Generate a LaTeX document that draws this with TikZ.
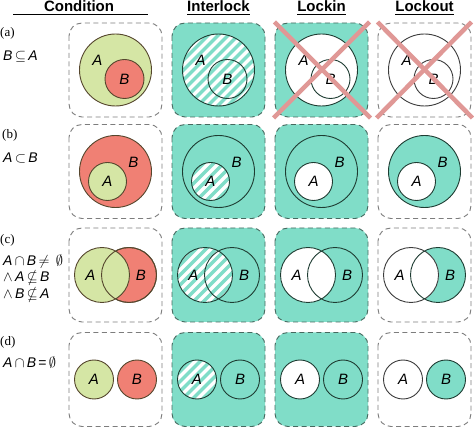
\documentclass[tikz,border=0pt]{standalone}
\usepackage{fontspec}
\usepackage{amssymb}
\setmainfont{Liberation Sans}
\newfontfamily\serifA{Liberation Serif}
\definecolor{tealc}{RGB}{128,221,200}
\definecolor{boxteal}{RGB}{70,105,95}
\definecolor{boxgray}{RGB}{125,125,125}
\definecolor{cgreen}{RGB}{213,230,165}
\definecolor{cred}{RGB}{240,128,116}
\definecolor{condline}{RGB}{85,70,45}
\definecolor{tline}{RGB}{30,60,50}
\definecolor{gline}{RGB}{60,60,60}
\definecolor{xpink}{RGB}{224,152,150}
\newcommand\Hatch[2]{%
  \begin{scope}[shift={#1}]
    \clip (0,0) circle (#2);
    \fill[tealc] (0,0) circle (#2);
    \foreach \k in {-80,-70,...,80} {\draw[white, line width=3.5pt] (\k-60,60) -- (\k+60,-60);}
  \end{scope}}
\begin{document}
\begin{tikzpicture}[x=1pt,y=-1pt,
  cellbox/.style={dashed, dash pattern=on 5pt off 3.5pt, rounded corners=13pt, line width=0.9pt},
  wcell/.style={cellbox, draw=boxgray, fill=white},
  tcell/.style={cellbox, draw=boxteal, fill=tealc},
  cc/.style={draw=condline, line width=0.9pt},
  tc/.style={draw=tline, line width=0.9pt},
  gc/.style={draw=gline, line width=0.9pt},
  lab/.style={inner sep=0pt, font=\fontsize{15}{17}\selectfont\itshape},
  cond/.style={anchor=west, inner sep=0pt, font=\fontsize{14}{16}\selectfont},
  tag/.style={anchor=west, inner sep=0pt, font=\fontsize{13}{15}\selectfont\serifA},
  head/.style={anchor=base, inner sep=0pt, font=\fontsize{15}{17}\selectfont\bfseries},
  uline/.style={line width=1.4pt, draw=black},
  xline/.style={line width=4.5pt, draw=xpink}
]
\useasboundingbox (0,0) rectangle (474,427);

% headers
\node[head] (hC) at (79,12) {Condition};
\coordinate (hCl) at (13,14.5); \coordinate (hCr) at (148,14.5);
\draw[uline] (hCl) -- (hCr);
\node[head] (hI) at (218.5,12) {Interlock};
\node[head] (hL) at (321.5,12) {Lockin};
\node[head] (hO) at (424.5,12) {Lockout};
\foreach \n in {hI,hL,hO} {\draw[uline] ([yshift=-2.5pt]\n.base west) -- ([yshift=-2.5pt]\n.base east);}

% condition labels
\node[tag] (ta) at (0,33) {(a)};
\node[cond] (ca) at (3,57) {\textit{B}\,$\subseteq$\,\textit{A}};
\node[tag] (tb) at (2,135) {(b)};
\node[cond] (cb) at (3,158) {\textit{A}\,$\subset$\,\textit{B}};
\node[tag] (tc) at (0,240) {(c)};
\node[cond] (cc1) at (3,262) {\textit{A}\,$\cap$\,\textit{B}$\,\neq\,\emptyset$};
\node[cond] (cc2) at (3,278.5) {$\wedge$\,\textit{A}\,$\nsubseteq$\,\textit{B}};
\node[cond] (cc3) at (3,295) {$\wedge$\,\textit{B}\,$\nsubseteq$\,\textit{A}};
\node[tag] (td) at (0,342) {(d)};
\node[cond] (cd) at (3,363) {\textit{A}\,$\cap$\,\textit{B}\,=\,$\emptyset$};

% ===== Row (a) =====
\begin{scope}[shift={(115.5,70)}]
  \draw[wcell] (-46.5,-47) rectangle (46.5,47);
  \filldraw[cc, fill=cgreen] (0,0) circle (36pt);
  \filldraw[cc, fill=cred] (9,9) circle (19.5pt);
  \node[lab] (a1A) at (-18,-10) {A};
  \node[lab] (a1B) at (9,9) {B};
\end{scope}
\begin{scope}[shift={(218.5,70)}]
  \draw[tcell] (-46.5,-47) rectangle (46.5,47);
  \Hatch{(0,0)}{36pt}
  \draw[tc] (0,0) circle (36pt);
  \draw[tc] (9,9) circle (19.5pt);
  \node[lab] (a2A) at (-18,-10) {A};
  \node[lab] (a2B) at (9,9) {B};
\end{scope}
\begin{scope}[shift={(321.5,70)}]
  \draw[tcell] (-46.5,-47) rectangle (46.5,47);
  \filldraw[tc, fill=white] (0,0) circle (36pt);
  \draw[tc] (9,9) circle (19.5pt);
  \node[lab] (a3A) at (-18,-10) {A};
  \node[lab] (a3B) at (9,9) {B};
  \coordinate (a3p) at (-47,-48); \coordinate (a3q) at (49,48);
  \coordinate (a3r) at (48,-48); \coordinate (a3s) at (-48,48);
  \draw[xline] (a3p) -- (a3q);
  \draw[xline] (a3r) -- (a3s);
\end{scope}
\begin{scope}[shift={(424.5,70)}]
  \draw[wcell] (-46.5,-47) rectangle (46.5,47);
  \draw[gc] (0,0) circle (36pt);
  \draw[gc] (9,9) circle (19.5pt);
  \node[lab] (a4A) at (-18,-10) {A};
  \node[lab] (a4B) at (9,9) {B};
  \coordinate (a4p) at (-47,-48); \coordinate (a4q) at (48,48);
  \coordinate (a4r) at (47,-48); \coordinate (a4s) at (-48,48);
  \draw[xline] (a4p) -- (a4q);
  \draw[xline] (a4r) -- (a4s);
\end{scope}

% ===== Row (b) =====
\begin{scope}[shift={(115.5,171.5)}]
  \draw[wcell] (-46.5,-47) rectangle (46.5,47);
  \filldraw[cc, fill=cred] (0,0) circle (36pt);
  \filldraw[cc, fill=cgreen] (-8,10) circle (19pt);
  \node[lab] (b1B) at (18,-9) {B};
  \node[lab] (b1A) at (-8,10) {A};
\end{scope}
\begin{scope}[shift={(218.5,171.5)}]
  \draw[tcell] (-46.5,-47) rectangle (46.5,47);
  \draw[tc] (0,0) circle (36pt);
  \Hatch{(-8,10)}{19pt}
  \draw[tc] (-8,10) circle (19pt);
  \node[lab] (b2B) at (18,-9) {B};
  \node[lab] (b2A) at (-8,10) {A};
\end{scope}
\begin{scope}[shift={(321.5,171.5)}]
  \draw[tcell] (-46.5,-47) rectangle (46.5,47);
  \draw[tc] (0,0) circle (36pt);
  \filldraw[tc, fill=white] (-8,10) circle (19pt);
  \node[lab] (b3B) at (18,-9) {B};
  \node[lab] (b3A) at (-8,10) {A};
\end{scope}
\begin{scope}[shift={(424.5,171.5)}]
  \draw[wcell] (-46.5,-47) rectangle (46.5,47);
  \filldraw[tc, fill=tealc] (0,0) circle (36pt);
  \filldraw[tc, fill=white] (-8,10) circle (19pt);
  \node[lab] (b4B) at (18,-9) {B};
  \node[lab] (b4A) at (-8,10) {A};
\end{scope}

% ===== Row (c) =====
\begin{scope}[shift={(115.5,275)}]
  \draw[wcell] (-46.5,-47) rectangle (46.5,47);
  \filldraw[cc, fill=cred] (13.5,0) circle (27.5pt);
  \filldraw[cc, fill=cgreen] (-13.5,0) circle (27.5pt);
  \draw[cc] (13.5,0) circle (27.5pt);
  \node[lab] (c1A) at (-25,0) {A};
  \node[lab] (c1B) at (25.5,0) {B};
\end{scope}
\begin{scope}[shift={(218.5,275)}]
  \draw[tcell] (-46.5,-47) rectangle (46.5,47);
  \Hatch{(-13.5,0)}{27.5pt}
  \draw[tc] (-13.5,0) circle (27.5pt);
  \draw[tc] (13.5,0) circle (27.5pt);
  \node[lab] (c2A) at (-25,0) {A};
  \node[lab] (c2B) at (25.5,0) {B};
\end{scope}
\begin{scope}[shift={(321.5,275)}]
  \draw[tcell] (-46.5,-47) rectangle (46.5,47);
  \filldraw[tc, fill=white] (-13.5,0) circle (27.5pt);
  \draw[tc] (13.5,0) circle (27.5pt);
  \node[lab] (c3A) at (-25,0) {A};
  \node[lab] (c3B) at (25.5,0) {B};
\end{scope}
\begin{scope}[shift={(424.5,275)}]
  \draw[wcell] (-46.5,-47) rectangle (46.5,47);
  \fill[tealc] (13.5,0) circle (27.5pt);
  \fill[white] (-13.5,0) circle (27.5pt);
  \draw[gc] (-13.5,0) circle (27.5pt);
  \draw[tc] (13.5,0) circle (27.5pt);
  \node[lab] (c4A) at (-25,0) {A};
  \node[lab] (c4B) at (25.5,0) {B};
\end{scope}

% ===== Row (d) =====
\begin{scope}[shift={(115.5,379.5)}]
  \draw[wcell] (-46.5,-47) rectangle (46.5,47);
  \filldraw[cc, fill=cgreen] (-21.5,0) circle (19.5pt);
  \filldraw[cc, fill=cred] (21.5,0) circle (19.5pt);
  \node[lab] (d1A) at (-21.5,0) {A};
  \node[lab] (d1B) at (21.5,0) {B};
\end{scope}
\begin{scope}[shift={(218.5,379.5)}]
  \draw[tcell] (-46.5,-47) rectangle (46.5,47);
  \Hatch{(-21.5,0)}{19.5pt}
  \draw[tc] (-21.5,0) circle (19.5pt);
  \draw[tc] (21.5,0) circle (19.5pt);
  \node[lab] (d2A) at (-21.5,0) {A};
  \node[lab] (d2B) at (21.5,0) {B};
\end{scope}
\begin{scope}[shift={(321.5,379.5)}]
  \draw[tcell] (-46.5,-47) rectangle (46.5,47);
  \filldraw[tc, fill=white] (-21.5,0) circle (19.5pt);
  \draw[tc] (21.5,0) circle (19.5pt);
  \node[lab] (d3A) at (-21.5,0) {A};
  \node[lab] (d3B) at (21.5,0) {B};
\end{scope}
\begin{scope}[shift={(424.5,379.5)}]
  \draw[wcell] (-46.5,-47) rectangle (46.5,47);
  \draw[gc] (-21.5,0) circle (19.5pt);
  \filldraw[tc, fill=tealc] (21.5,0) circle (19.5pt);
  \node[lab] (d4A) at (-21.5,0) {A};
  \node[lab] (d4B) at (21.5,0) {B};
\end{scope}
\end{tikzpicture}
\end{document}
